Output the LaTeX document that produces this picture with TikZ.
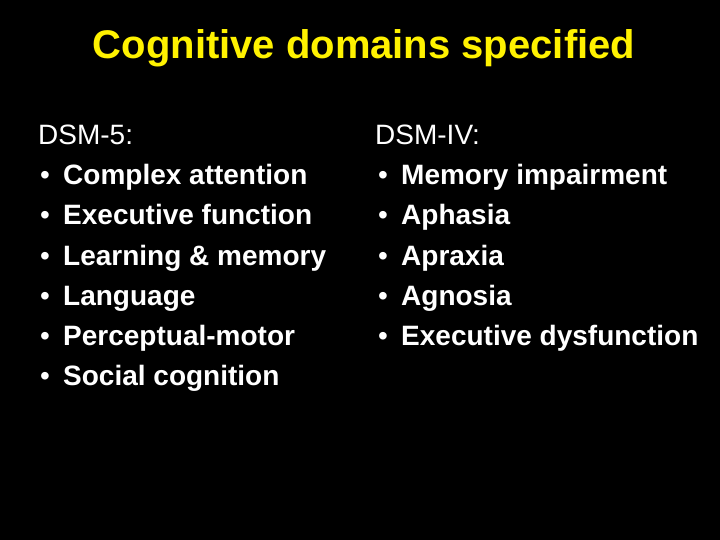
\documentclass[tikz,border=0pt]{standalone}
\usepackage{fontspec}
\setmainfont{Liberation Sans}
\tikzset{
        title/.style = {anchor=base, inner sep=0pt, text=yellow,
            font=\fontsize{40}{44}\selectfont\bfseries},
        head/.style = {anchor=base west, inner sep=0pt, text=white,
            font=\fontsize{28}{32}\selectfont},
        item/.style = {anchor=base west, inner sep=0pt, text=white,
            font=\fontsize{28}{32}\selectfont\bfseries},
        dot/.style = {anchor=base west, inner sep=0pt, text=white,
            font=\fontsize{28}{32}\selectfont}
    }
\begin{document}
\begin{tikzpicture}[x=1pt,y=-1pt]
    \fill[black] (0,0) rectangle (720,540);
    \useasboundingbox (0,0) rectangle (720,540);
    \node [title] (ttl) at (364,59) {Cognitive domains specified};
    % DSM-5 column
    \node [head] (h5) at (38,145) {DSM-5:};
    \foreach \t [count=\i] in {Complex attention, Executive function,
        Learning \& memory, Language, Perceptual-motor, Social cognition} {
        \node [dot] (d5\i) at (40,145+40*\i) {•};
        \node [item] (a5\i) at (63,145+40*\i) {\t};
    }
    % DSM-IV column
    \node [head] (h4) at (375,145) {DSM-IV:};
    \foreach \t [count=\i] in {Memory impairment, Aphasia, Apraxia,
        Agnosia, Executive dysfunction} {
        \node [dot] (d4\i) at (378,145+40*\i) {•};
        \node [item] (a4\i) at (401,145+40*\i) {\t};
    }
\end{tikzpicture}
\end{document}
